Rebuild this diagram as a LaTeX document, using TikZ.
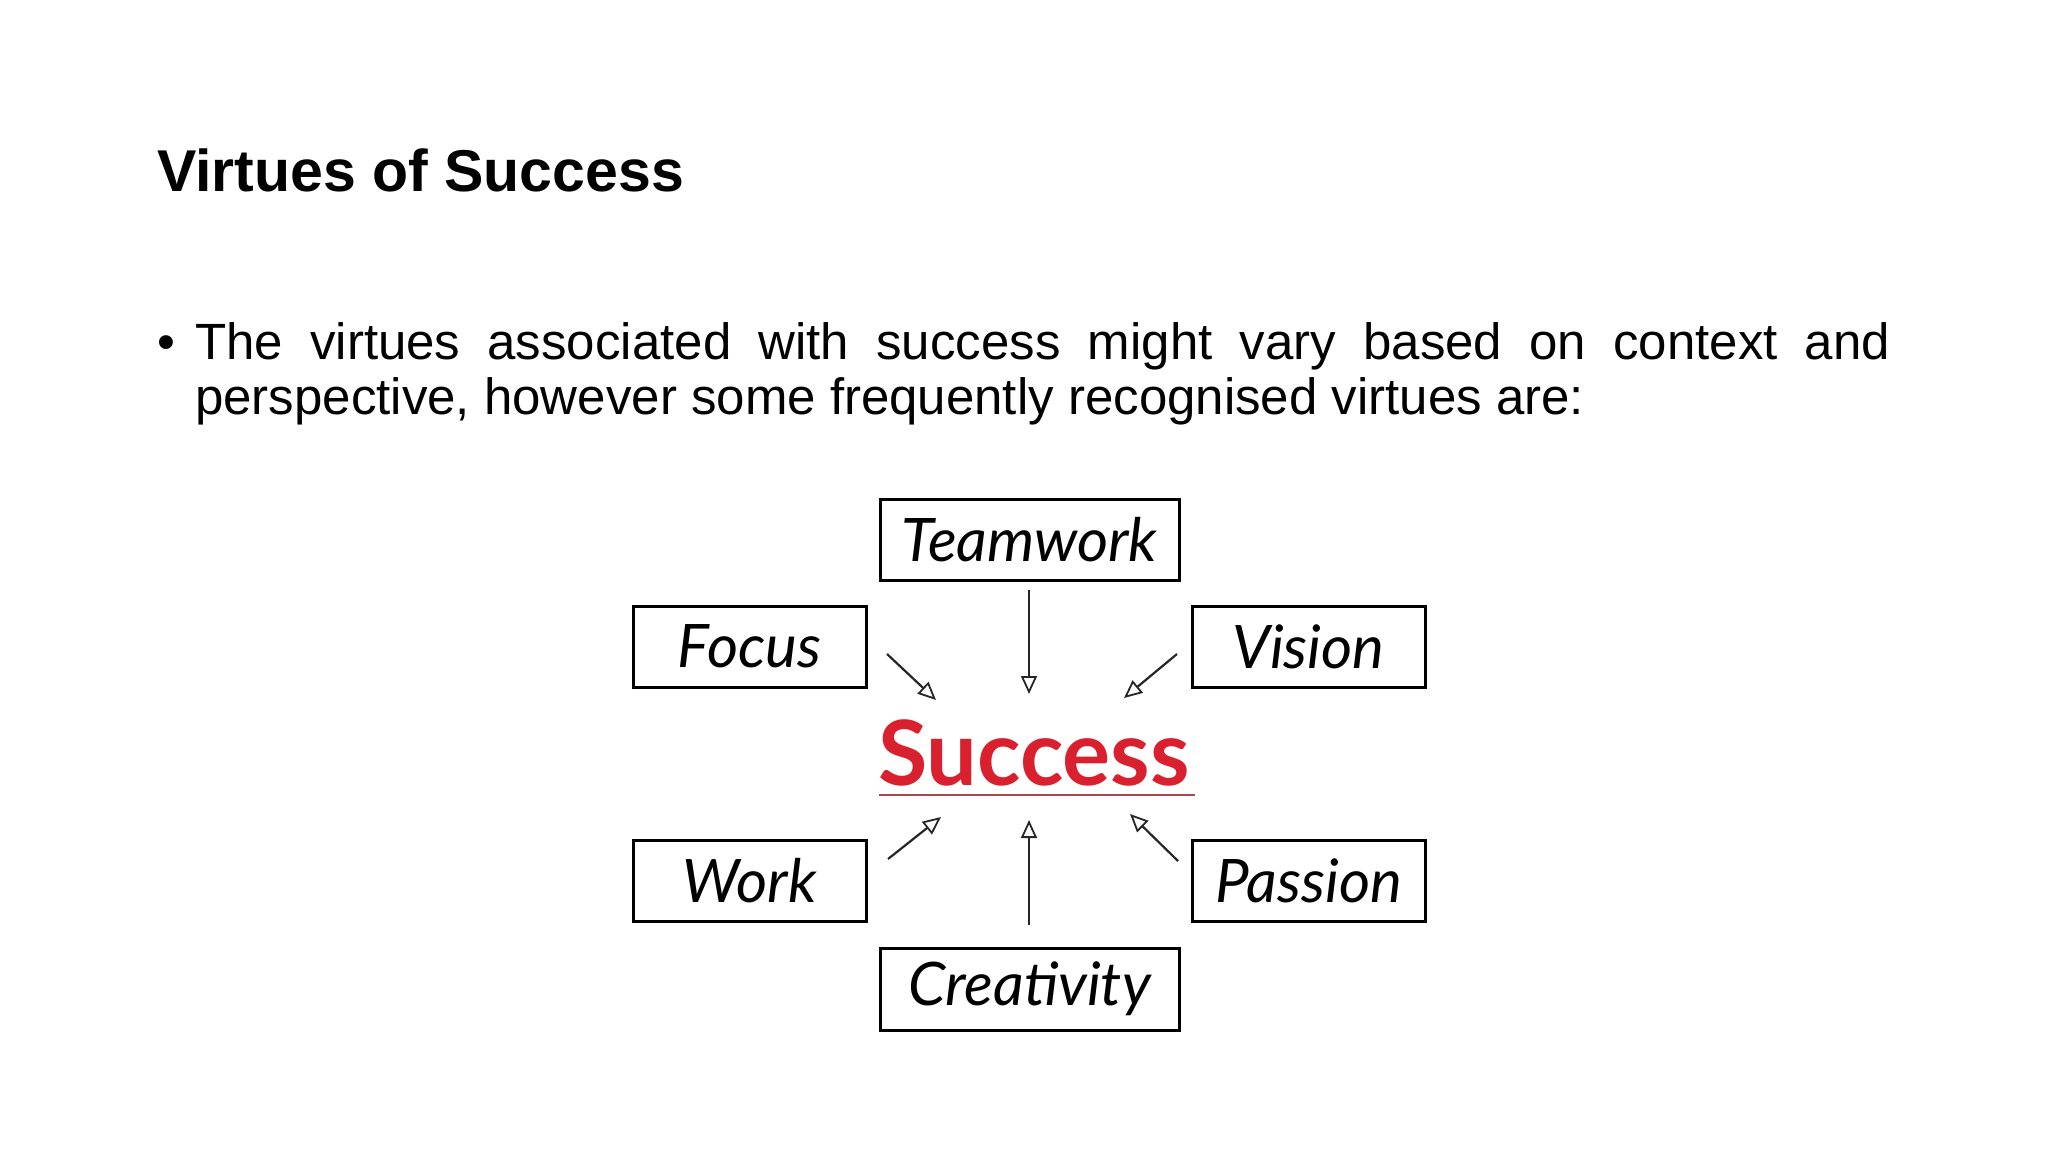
\documentclass[tikz,border=0pt]{standalone}
\usepackage{fontspec}
\setmainfont{Liberation Sans}
\newfontfamily\handfont{Lato}
\usetikzlibrary{arrows.meta}
\definecolor{succred}{HTML}{D8202E}
\definecolor{lineRed}{HTML}{A8474A}
\begin{document}
\begin{tikzpicture}[x=1pt,y=-1pt,
  vbox/.style={draw=black,line width=3pt,inner sep=0pt,
    font=\handfont\itshape\fontsize{60}{68}\selectfont},
  arr/.style={draw=black!85,line width=2.2pt,-{Triangle[open,length=18pt,width=16pt,line width=1.8pt]}}]
\useasboundingbox (0,0) rectangle (2048,1152);
% title and bullet text
\node[anchor=base west,inner sep=0pt] (title) at (157,191)
  {\fontsize{59}{70}\selectfont\bfseries Virtues of Success};
\node[anchor=base west,inner sep=0pt] (bullet) at (157,359)
  {\fontsize{51}{56}\selectfont \textbullet};
\node[anchor=base west,inner sep=0pt] (line1) at (195,359)
  {\fontsize{51}{56}\selectfont\makebox[1695pt][s]{The virtues associated with success might vary based on context and}};
\node[anchor=base west,inner sep=0pt] (line2) at (195,414)
  {\fontsize{51}{56}\selectfont perspective, however some frequently recognised virtues are:};
% boxes
\node[vbox,minimum width=299pt,minimum height=81pt] (team) at (1029.5,539.5) {Teamwork};
\node[vbox,minimum width=233pt,minimum height=81pt] (focus) at (749.5,646.5) {Focus};
\node[vbox,minimum width=233pt,minimum height=81pt] (vision) at (1308.5,646.5) {Vision};
\node[vbox,minimum width=233pt,minimum height=81pt] (work) at (749.5,880.5) {Work};
\node[vbox,minimum width=233pt,minimum height=81pt] (passion) at (1308.5,880.5) {Passion};
\node[vbox,minimum width=299pt,minimum height=82pt] (creat) at (1029.5,989) {Creativity};
% success
\node[inner sep=0pt,anchor=base,text=succred] (succ) at (1034,785)
  {\handfont\bfseries\fontsize{90}{100}\selectfont Success};
\coordinate (ulL) at (879,795);
\coordinate (ulR) at (1195,795);
\draw[lineRed,line width=2.2pt] (ulL) -- (ulR);
% arrow ends
\coordinate (tA) at (1029,590); \coordinate (tB) at (1029,694);
\coordinate (fA) at (887,654);  \coordinate (fB) at (936,700);
\coordinate (vA) at (1177,654); \coordinate (vB) at (1124,698);
\coordinate (wA) at (888,859);  \coordinate (wB) at (941,817);
\coordinate (cA) at (1029,925); \coordinate (cB) at (1029,820);
\coordinate (pA) at (1178,861); \coordinate (pB) at (1130,814);
\draw[arr] (tA) -- (tB);
\draw[arr] (fA) -- (fB);
\draw[arr] (vA) -- (vB);
\draw[arr] (wA) -- (wB);
\draw[arr] (cA) -- (cB);
\draw[arr] (pA) -- (pB);
\end{tikzpicture}
\end{document}
